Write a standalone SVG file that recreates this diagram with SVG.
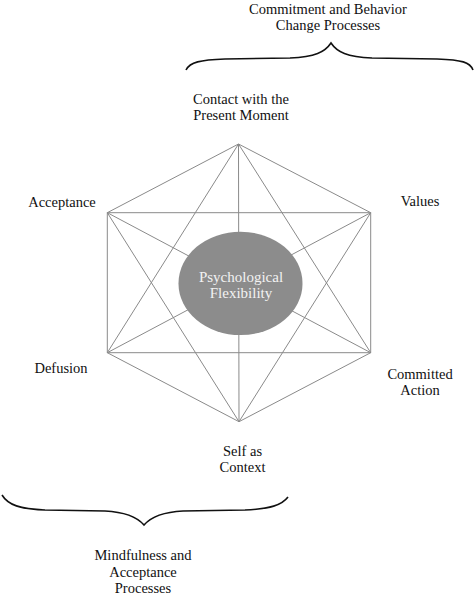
<svg xmlns="http://www.w3.org/2000/svg" width="474" height="605" viewBox="0 0 474 605">
<style>
text{font-family:'Liberation Serif','DejaVu Serif',serif}
.t{font-size:14.5px;fill:#111;text-anchor:middle}
.c{font-size:15px;fill:#f2f2f2;text-anchor:middle}
.e{stroke:#8a8a8a;stroke-width:1;fill:none}
.b{stroke:#111;stroke-width:1.6;fill:none}
</style>
<rect width="474" height="605" fill="#fff"/>
<g id="connectors">
<path class="e" d="M238.5,144 L370.7,212.7 L370.7,352.7 L239,421.7 L107.3,352.7 L107.3,212.7 Z"/>
<path class="e" d="M238.5,144 L370.7,352.7 L107.3,352.7 Z"/>
<path class="e" d="M107.3,212.7 L370.7,212.7 L239,421.7 Z"/>
<path class="e" d="M238.5,144 L239,421.7 M107.3,212.7 L370.7,352.7 M370.7,212.7 L107.3,352.7"/>
</g>
<g id="center">
<ellipse cx="240.5" cy="283.4" rx="62" ry="51.7" fill="#8c8c8c"/>
<text class="c" x="241" y="282" font-family="Liberation Serif, serif">Psychological</text>
<text class="c" x="241" y="298" font-family="Liberation Serif, serif">Flexibility</text>
</g>
<g id="contact"><text class="t" x="241" y="104">Contact with the</text><text class="t" x="241" y="120">Present Moment</text></g>
<g id="acceptance"><text class="t" x="62" y="207">Acceptance</text></g>
<g id="values"><text class="t" x="420" y="206">Values</text></g>
<g id="defusion"><text class="t" x="61" y="373">Defusion</text></g>
<g id="committed"><text class="t" x="420" y="379">Committed</text><text class="t" x="420" y="395">Action</text></g>
<g id="self"><text class="t" x="242.5" y="456">Self as</text><text class="t" x="242.5" y="472">Context</text></g>
<g id="commitment-brace">
<path class="b" d="M186,70 C190,62 200,60 225,59 L290,58 C315,57 325,52 331,43 C337,52 347,57 372,58 L437,59 C462,60 470,62 473,70"/>
<text class="t" x="328" y="14">Commitment and Behavior</text>
<text class="t" x="328" y="30">Change Processes</text>
</g>
<g id="mindfulness-brace">
<path class="b" d="M2,495 C8,505 20,509 45,510 L105,511 C125,512 137,517 144,525 C151,517 163,512 183,511 L245,510 C270,509 282,505 288,497"/>
<text class="t" x="143" y="560">Mindfulness and</text>
<text class="t" x="143" y="577">Acceptance</text>
<text class="t" x="143" y="593">Processes</text>
</g>
</svg>
